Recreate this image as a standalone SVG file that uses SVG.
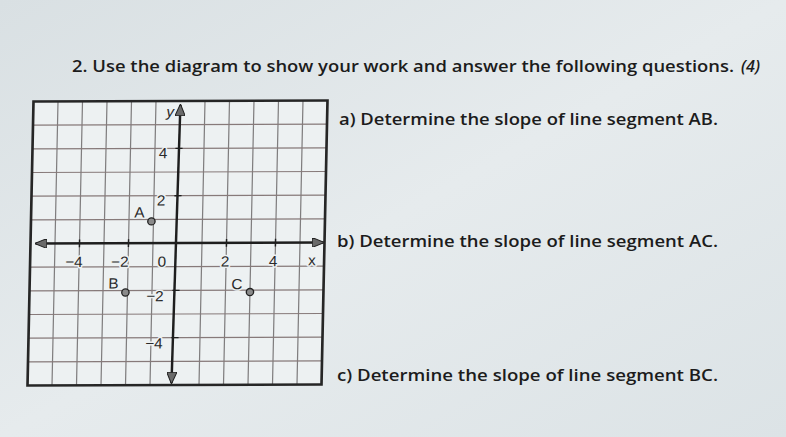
<svg xmlns="http://www.w3.org/2000/svg" width="786" height="437" viewBox="0 0 786 437">
<defs>
<linearGradient id="bg" x1="0" y1="0" x2="1" y2="1">
<stop offset="0" stop-color="#d9e0e3"/>
<stop offset="0.5" stop-color="#e6ebed"/>
<stop offset="1" stop-color="#dce3e6"/>
</linearGradient>
<marker id="ah" viewBox="0 0 12 10" refX="11" refY="5" markerWidth="12" markerHeight="10" markerUnits="userSpaceOnUse" orient="auto-start-reverse">
<path d="M0,0 L12,5 L0,10 Z" fill="#6a6a6a" stroke="#222" stroke-width="1"/>
</marker>
<style>
.q{font-family:"Open Sans","Liberation Sans",sans-serif;font-size:17px;font-weight:600;fill:#1c1c1c}
.g{stroke:#7f7d7e;stroke-width:1.2;fill:none}
.gh{stroke:#877a7a;stroke-width:1.2;fill:none}
.ax{stroke:#1e1e1e;stroke-width:2.4;fill:none}
.tk{stroke:#1e1e1e;stroke-width:1.4}
.lb{font-family:"Liberation Sans","DejaVu Sans",sans-serif;font-size:15px;fill:#2a2a2a;stroke:#edf1f2;stroke-width:3;paint-order:stroke;stroke-linejoin:round}
.pt{fill:#8a8a8a;stroke:#222;stroke-width:1.3}
</style>
</defs>
<rect width="786" height="437" fill="url(#bg)"/>
<text class="q" x="72" y="72" textLength="662" lengthAdjust="spacingAndGlyphs">2. Use the diagram to show your work and answer the following questions.</text>
<text class="q" x="741" y="72" font-style="italic" font-weight="700" textLength="19" lengthAdjust="spacingAndGlyphs">(4)</text>
<text class="q" x="339" y="125" textLength="379" lengthAdjust="spacingAndGlyphs">a) Determine the slope of line segment AB.</text>
<text class="q" x="337" y="247" textLength="381" lengthAdjust="spacingAndGlyphs">b) Determine the slope of line segment AC.</text>
<text class="q" x="337" y="381" textLength="381" lengthAdjust="spacingAndGlyphs">c) Determine the slope of line segment BC.</text>
<g id="graph" transform="matrix(1.0208,-0.0035,-0.0208,0.986,177.5,243)">
<rect x="-144" y="-144" width="288" height="288" fill="#edf1f2"/>
<g id="grid">
<path class="g" d="M-120,-144V144M-96,-144V144M-72,-144V144M-48,-144V144M-24,-144V144M24,-144V144M48,-144V144M72,-144V144M96,-144V144M120,-144V144"/>
<path class="gh" d="M-144,-120H144M-144,-96H144M-144,-72H144M-144,-48H144M-144,-24H144M-144,24H144M-144,48H144M-144,72H144M-144,96H144M-144,120H144"/>
<rect x="-144" y="-144" width="288" height="288" fill="none" stroke="#262626" stroke-width="2.6"/>
</g>
<g id="labels">
<text class="lb" x="-10" y="-128" text-anchor="middle" font-style="italic">y</text>
<text class="lb" x="-16" y="-86" text-anchor="middle">4</text>
<text class="lb" x="-17" y="-38" text-anchor="middle">2</text>
<text class="lb" x="-21" y="59" text-anchor="middle">−2</text>
<text class="lb" x="-21" y="107" text-anchor="middle">−4</text>
<text class="lb" x="-101" y="24" text-anchor="middle">−4</text>
<text class="lb" x="-56" y="24" text-anchor="middle">−2</text>
<text class="lb" x="-15" y="24" text-anchor="middle">0</text>
<text class="lb" x="47" y="24" text-anchor="middle">2</text>
<text class="lb" x="94" y="24" text-anchor="middle">4</text>
<text class="lb" x="132" y="23" text-anchor="middle">x</text>
</g>
<g id="axes">
<line class="ax" x1="-139" y1="0" x2="143" y2="0" marker-start="url(#ah)" marker-end="url(#ah)"/>
<line class="ax" x1="0" y1="-140" x2="-3" y2="142" marker-start="url(#ah)" marker-end="url(#ah)"/>
<path class="tk" d="M-96,-4V4M-48,-4V4M48,-4V4M96,-4V4M-4,-96H3M-4,-48H3M-4,48H3M-4,96H3"/>
</g>
<g id="A">
<circle class="pt" cx="-26" cy="-22" r="3.6"/>
<text class="lb" x="-38" y="-26" text-anchor="middle">A</text>
</g>
<g id="B">
<circle class="pt" cx="-50" cy="50" r="3.6"/>
<text class="lb" x="-62" y="46" text-anchor="middle">B</text>
</g>
<g id="C">
<circle class="pt" cx="72" cy="50" r="3.6"/>
<text class="lb" x="59" y="47" text-anchor="middle">C</text>
</g>
</g>
</svg>
